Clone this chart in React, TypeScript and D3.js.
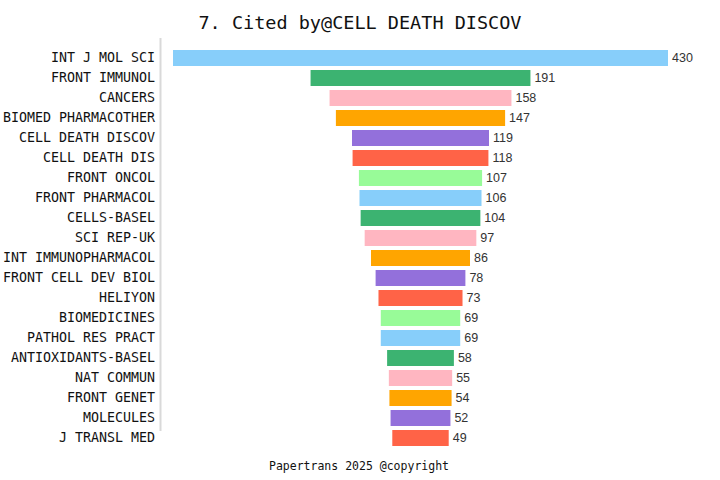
import React from 'react';
import * as d3 from 'd3';

const journals = [
  'INT J MOL SCI', 'FRONT IMMUNOL', 'CANCERS', 'BIOMED PHARMACOTHER', 'CELL DEATH DISCOV',
  'CELL DEATH DIS', 'FRONT ONCOL', 'FRONT PHARMACOL', 'CELLS-BASEL', 'SCI REP-UK',
  'INT IMMUNOPHARMACOL', 'FRONT CELL DEV BIOL', 'HELIYON', 'BIOMEDICINES', 'PATHOL RES PRACT',
  'ANTIOXIDANTS-BASEL', 'NAT COMMUN', 'FRONT GENET', 'MOLECULES', 'J TRANSL MED',
];
const counts = [430, 191, 158, 147, 119, 118, 107, 106, 104, 97, 86, 78, 73, 69, 69, 58, 55, 54, 52, 49];
const palette = ['#87CEFA', '#3CB371', '#FFB6C1', '#FFA500', '#9370DB', '#FF6347', '#98FB98'];

const width = 720;
const height = 480;
const center = 420.5;

export default function App() {
  const y = d3.scaleBand<string>().domain(journals).range([48, 448]).paddingInner(0.2).paddingOuter(0.1);
  const w = d3.scaleLinear().domain([0, 430]).range([0, 495]);
  const mono = '"DejaVu Sans Mono", monospace';

  return (
    <svg width={width} height={height} style={{ position: 'absolute', left: 0, top: 0 }}>
      <rect width={width} height={height} fill="#fff" />
      <text x={360} y={29} textAnchor="middle" fontFamily={mono} fontSize={18.5} fill="#111">
        7. Cited by@CELL DEATH DISCOV
      </text>
      <line x1={160.5} x2={160.5} y1={38} y2={431} stroke="#d9d9d9" strokeWidth={2} />
      {journals.map((j, i) => {
        const yy = y(j)!;
        const bw = w(counts[i]);
        return (
          <g key={j}>
            <text x={155} y={yy + y.bandwidth() / 2} dy="0.28em" textAnchor="end"
              fontFamily={mono} fontSize={13.3} fill="#111">{j}</text>
            <rect x={center - bw / 2} y={yy} width={bw} height={y.bandwidth()} fill={palette[i % palette.length]} />
            <text x={center + bw / 2 + 4} y={yy + y.bandwidth() / 2} dy="0.28em"
              fontFamily="'Liberation Sans', Arial, sans-serif" fontSize={12.5} fill="#333">{counts[i]}</text>
          </g>
        );
      })}
      <text x={359} y={470} textAnchor="middle" fontFamily={mono} fontSize={11.5} fill="#111">
        Papertrans 2025 @copyright
      </text>
    </svg>
  );
}
